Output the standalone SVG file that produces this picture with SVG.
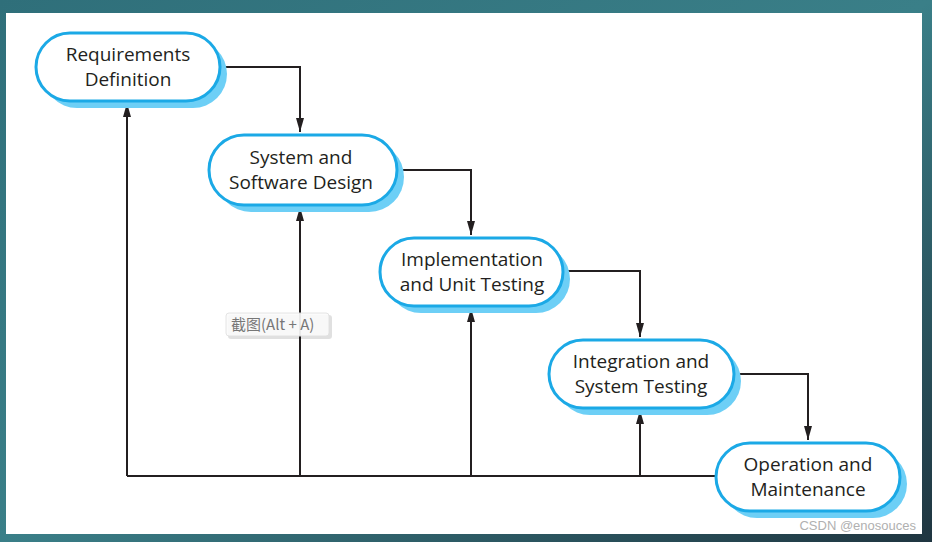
<svg xmlns="http://www.w3.org/2000/svg" width="932" height="542" viewBox="0 0 932 542">
<defs>
<linearGradient id="bg" x1="0" y1="0" x2="1" y2="1"><stop offset="0" stop-color="#2f6f7a"/><stop offset="0.5" stop-color="#3a7f88"/><stop offset="1" stop-color="#1f3540"/></linearGradient>
<marker id="ah" viewBox="0 0 14 8" refX="14" refY="4" markerWidth="14" markerHeight="8" markerUnits="userSpaceOnUse" orient="auto"><path d="M0,0 L14,4 L0,8 z" fill="#231f20"/></marker>
</defs>
<style>
.sh{fill:#6dcff6}
.bx{fill:#fff;stroke:#1ba9e6;stroke-width:3}
.t{font-family:"Open Sans","Liberation Sans",sans-serif;font-size:19px;fill:#231f20;text-anchor:middle}
.c{fill:none;stroke:#231f20;stroke-width:2}
</style>
<rect width="932" height="542" fill="url(#bg)"/>
<rect x="6" y="13" width="916" height="521" fill="#fff"/>
<g id="connectors">
<path class="c" d="M222,67 H300 V132" marker-end="url(#ah)"/>
<path class="c" d="M399,170 H471 V235" marker-end="url(#ah)"/>
<path class="c" d="M565,271 H640 V337" marker-end="url(#ah)"/>
<path class="c" d="M736,374 H808 V440" marker-end="url(#ah)"/>
<path class="c" d="M716,476 H127"/>
<path class="c" d="M127,476 V103" marker-end="url(#ah)"/>
<path class="c" d="M300,476 V207" marker-end="url(#ah)"/>
<path class="c" d="M471,476 V308" marker-end="url(#ah)"/>
<path class="c" d="M640,476 V410" marker-end="url(#ah)"/>
</g>
<g id="n1"><rect class="sh" x="43" y="40" width="184" height="68" rx="34"/><rect class="bx" x="36" y="33" width="184" height="68" rx="34"/><text class="t" x="128" y="61">Requirements</text><text class="t" x="128" y="86">Definition</text></g>
<g id="n2"><rect class="sh" x="216" y="142" width="188" height="70" rx="35"/><rect class="bx" x="209" y="135" width="188" height="70" rx="35"/><text class="t" x="301" y="164">System and</text><text class="t" x="301" y="189">Software Design</text></g>
<g id="n3"><rect class="sh" x="387" y="245" width="183" height="68" rx="34"/><rect class="bx" x="380" y="238" width="183" height="68" rx="34"/><text class="t" x="472" y="266">Implementation</text><text class="t" x="472" y="291">and Unit Testing</text></g>
<g id="n4"><rect class="sh" x="556" y="347" width="185" height="68" rx="34"/><rect class="bx" x="549" y="340" width="185" height="68" rx="34"/><text class="t" x="641" y="368">Integration and</text><text class="t" x="641" y="393">System Testing</text></g>
<g id="n5"><rect class="sh" x="723" y="450" width="184" height="68" rx="34"/><rect class="bx" x="716" y="443" width="184" height="68" rx="34"/><text class="t" x="808" y="471">Operation and</text><text class="t" x="808" y="496">Maintenance</text></g>
<g id="tooltip"><rect x="228" y="315" width="104" height="24" rx="3" fill="#000" opacity="0.12"/><rect x="226" y="313" width="103" height="23" rx="3" fill="#fbfbfb" stroke="#e2e2e2" opacity="0.92"/><text x="231" y="330" font-family="'Noto Sans CJK SC','Liberation Sans',sans-serif" font-size="15" fill="#777">截图(Alt + A)</text></g>
<text x="916" y="530" text-anchor="end" font-family="'Liberation Sans',sans-serif" font-size="13" fill="#b0b0b0">CSDN @enosouces</text>
</svg>
